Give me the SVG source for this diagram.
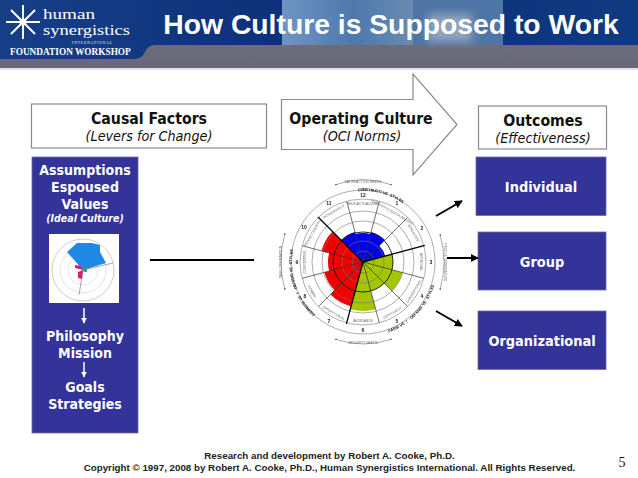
<svg xmlns="http://www.w3.org/2000/svg" width="638" height="478" viewBox="0 0 638 478">
<style>
.t{font-family:"DejaVu Sans Condensed","DejaVu Sans",sans-serif;font-stretch:condensed;text-anchor:middle}
.b{font-weight:bold;font-size:14.4px}
.c{font-size:14px}
.o{font-size:15.7px}
.w{fill:#fff}
.k{fill:#111}
.i{font-style:italic;font-size:14.2px;font-family:"DejaVu Sans Condensed","DejaVu Sans",sans-serif;font-stretch:condensed;text-anchor:middle;fill:#111}
.box{fill:#fff;stroke:#8a8a8a;stroke-width:1.2}
.blue{fill:#333399;stroke:#6f6f9a;stroke-width:.8}
.arr{stroke:#000;stroke-width:2;fill:none}
.warr{stroke:#fff;stroke-width:1.5;fill:none}
.g{fill:none;stroke:#777;stroke-width:.6}
.l{stroke:#333;stroke-width:.7}
.h{stroke:#000;stroke-width:1.3}
.s{font-family:"Liberation Sans",sans-serif;font-size:3.4px;fill:#666;text-anchor:middle}
.m{font-family:"Liberation Sans",sans-serif;font-size:3.9px;font-weight:bold;fill:#111;text-anchor:start}
.n{font-family:"Liberation Sans",sans-serif;font-size:5px;font-weight:bold;fill:#222;text-anchor:middle}
.foot{font-family:"Liberation Sans",sans-serif;font-weight:bold;font-size:9.77px;fill:#222;text-anchor:middle}
.logo{font-family:"Liberation Serif",serif;fill:#fff}
</style>
<defs>
<linearGradient id="gb" x1="0" x2="1" y1="0" y2="0"><stop offset="0" stop-color="#163f88"/><stop offset=".5" stop-color="#0c2f78"/><stop offset="1" stop-color="#0f3a82"/></linearGradient>
<linearGradient id="gg" x1="0" x2="0" y1="0" y2="1"><stop offset="0" stop-color="#72727f"/><stop offset="1" stop-color="#686878"/></linearGradient>
<linearGradient id="gm" x1="0" x2="1" y1="0" y2="0"><stop offset="0" stop-color="#6f94c2"/><stop offset=".55" stop-color="#4e79ad"/><stop offset="1" stop-color="#6a8bb0"/></linearGradient>
<marker id="ah" viewBox="0 0 10 10" refX="9" refY="5" markerWidth="4" markerHeight="4" orient="auto"><path d="M0 0L10 5L0 10z" fill="#000"/></marker>
<marker id="awh" viewBox="0 0 10 10" refX="9" refY="5" markerWidth="4" markerHeight="4" orient="auto"><path d="M0 0L10 5L0 10z" fill="#fff"/></marker>
<marker id="ag" viewBox="0 0 10 10" refX="9" refY="5" markerWidth="4" markerHeight="4" orient="auto-start-reverse"><path d="M0 0L10 5L0 10z" fill="#555"/></marker>
<filter id="soft" x="-5%" y="-5%" width="110%" height="110%"><feGaussianBlur stdDeviation=".3"/></filter>
<filter id="mott" x="-20%" y="-20%" width="140%" height="140%"><feGaussianBlur stdDeviation="4"/></filter>
</defs>
<g id="header">
<rect x="0" y="0" width="638" height="68" fill="url(#gg)"/>
<path d="M0 0H638V45H155Q148 45 145 52Q142 59 134 59H0z" fill="url(#gb)"/>
<rect x="282" y="0" width="131" height="45" fill="url(#gm)"/>
<rect x="413" y="0" width="90" height="45" fill="#4f74a6"/>
<path d="M428 14H472V42H428z" fill="#8ea4bd" filter="url(#mott)"/>
<rect x="0" y="68" width="638" height="2" fill="#dfe2ea"/>
<g stroke="#fff" stroke-width="2" fill="none"><path d="M23 5V39M6 22H40M11 10L35 34M35 10L11 34"/></g>
<circle cx="23" cy="22" r="3.500" fill="#fff"/>
<text class="logo" x="43" y="19" font-size="14" textLength="52" lengthAdjust="spacingAndGlyphs">human</text>
<text class="logo" x="43" y="35" font-size="14" textLength="87" lengthAdjust="spacingAndGlyphs">synergistics</text>
<text class="logo" x="72" y="44" font-size="3.500" letter-spacing="1">INTERNATIONAL</text>
<text class="logo" x="10" y="55" font-size="9.300" font-weight="bold">FOUNDATION WORKSHOP</text>
<text x="391" y="34" font-family="Liberation Sans,sans-serif" font-size="28.300" font-weight="bold" fill="#fff" text-anchor="middle">How Culture is Supposed to Work</text>
</g>
<g id="causal">
<rect class="box" x="31.500" y="104" width="235" height="44"/>
<text class="t b o k" x="149" y="124">Causal Factors</text>
<text class="i" x="149" y="141">(Levers for Change)</text>
</g>
<g id="operating">
<path class="box" d="M281.500 99.500H413V74L457 124.500L413 175V149.500H281.500z"/>
<text class="t b o k" x="361" y="124">Operating Culture</text>
<text class="i" x="362" y="141">(OCI Norms)</text>
</g>
<g id="outcomes">
<rect class="box" x="478.500" y="106" width="128" height="43"/>
<text class="t b o k" x="543" y="126">Outcomes</text>
<text class="i" x="543" y="143">(Effectiveness)</text>
</g>
<g id="left-column">
<rect class="blue" x="32" y="157" width="106" height="276"/>
<text class="t b c w" x="85" y="175">Assumptions</text>
<text class="t b c w" x="85" y="192">Espoused</text>
<text class="t b c w" x="85" y="209">Values</text>
<text class="t w" x="85" y="222" font-size="10.500" font-style="italic" font-weight="bold">(Ideal Culture)</text>
<rect x="49" y="234" width="70" height="69" fill="#fff"/>
<g id="mini-wheel">
<circle cx="83" cy="270" r="31" fill="none" stroke="#999" stroke-width=".5"/>
<circle cx="83" cy="270" r="23" fill="none" stroke="#bbb" stroke-width=".4"/>
<circle cx="83" cy="270" r="15" fill="none" stroke="#bbb" stroke-width=".4"/>
<path d="M83 270L67 252L77 243H92L100 245L100 252L106 263Z" fill="#1e88e5"/>
<path d="M83 270L75 268L75 265L81 266ZM83 270L82 279L78 278L78 272Z" fill="#d0207a"/>
<path d="M83 270L87 268L87 272L84 272Z" fill="#4caf20"/>
<path d="M83 270L79 295M83 270L113 263" stroke="#666" stroke-width=".6"/>
</g>
<text class="t b c w" x="85" y="341">Philosophy</text>
<text class="t b c w" x="85" y="358">Mission</text>
<text class="t b c w" x="85" y="392">Goals</text>
<text class="t b c w" x="85" y="409">Strategies</text>
</g>
<g id="individual"><rect class="blue" x="476" y="157" width="130" height="58.500"/><text class="t b w" x="541" y="192">Individual</text></g>
<g id="group"><rect class="blue" x="478" y="232" width="128" height="58"/><text class="t b w" x="542" y="267">Group</text></g>
<g id="organizational"><rect class="blue" x="478" y="311" width="128" height="58.500"/><text class="t b w" x="542" y="346">Organizational</text></g>
<g id="wheel" filter="url(#soft)">
<circle cx="363" cy="262" r="72" fill="#fff" stroke="#777" stroke-width=".6"/>
<path fill="#0000ee" d="M363 262L341.100 240.100A31 31 0 0 1 355 232.100L355.500 234A29 29 0 0 1 370.500 234L371 232.100A31 31 0 0 1 384.900 240.100L379.300 245.700A23 23 0 0 1 385.200 256Z"/>
<path fill="#a3c600" d="M363 262L392 254.200A30 30 0 0 1 392 269.800L402.600 272.600A41 41 0 0 1 392 291L384.200 283.200A30 30 0 0 1 370.800 291L375.700 309.300A49 49 0 0 1 350.300 309.300Z"/>
<path fill="#f00000" d="M363 262L351.100 306.400A46 46 0 0 1 330.500 294.500L334.700 290.300A40 40 0 0 1 324.400 272.400L329.200 271.100A35 35 0 0 1 329.200 252.900L321.500 250.900A43 43 0 0 1 332.600 231.600Z"/>
<g class="g">
<circle cx="363" cy="262" r="11"/><circle cx="363" cy="262" r="21"/><circle cx="363" cy="262" r="41"/><circle cx="363" cy="262" r="51"/><circle cx="363" cy="262" r="63"/>
</g>
<circle cx="363" cy="262" r="30" fill="none" stroke="#222" stroke-width="1"/>
<g class="l">
<line x1="363" y1="262" x2="346.700" y2="201.200"/><line x1="363" y1="262" x2="379.300" y2="201.200"/><line x1="363" y1="262" x2="407.500" y2="217.500"/><line x1="363" y1="262" x2="423.800" y2="278.300"/><line x1="363" y1="262" x2="407.500" y2="306.500"/><line x1="363" y1="262" x2="379.300" y2="322.800"/><line x1="363" y1="262" x2="318.500" y2="306.500"/><line x1="363" y1="262" x2="302.200" y2="278.300"/><line x1="363" y1="262" x2="302.200" y2="245.700"/>
</g>
<g class="h"><line x1="363" y1="262" x2="318" y2="217"/><line x1="363" y1="262" x2="424.800" y2="245.400"/><line x1="363" y1="262" x2="346.400" y2="323.800"/></g>
<text class="s" transform="translate(363 205)">SELF-ACTUALIZING</text>
<text class="s" transform="translate(391.500 212.600) rotate(30)">HUMANISTIC-ENCOURAGING</text>
<text class="s" transform="translate(412.400 233.500) rotate(60)">AFFILIATIVE</text>
<text class="s" transform="translate(420 262) rotate(90)">APPROVAL</text>
<text class="s" transform="translate(415 292) rotate(-60)">CONVENTIONAL</text>
<text class="s" transform="translate(393 314) rotate(-30)">DEPENDENT</text>
<text class="s" transform="translate(363 322)">AVOIDANCE</text>
<text class="s" transform="translate(333 314) rotate(30)">OPPOSITIONAL</text>
<text class="s" transform="translate(311 292) rotate(60)">POWER</text>
<text class="s" transform="translate(306 262) rotate(-90)">COMPETITIVE</text>
<text class="s" transform="translate(313.600 233.500) rotate(-60)">PERFECTIONISTIC</text>
<text class="s" transform="translate(334.500 212.600) rotate(-30)">ACHIEVEMENT</text>
<text class="n" x="363" y="197">12</text><text class="n" x="397" y="205">1</text><text class="n" x="422" y="230">2</text><text class="n" x="431" y="264">3</text><text class="n" x="422" y="298">4</text><text class="n" x="397" y="323">5</text><text class="n" x="363" y="332">6</text><text class="n" x="329" y="323">7</text><text class="n" x="305" y="298">8</text><text class="n" x="297" y="264">9</text><text class="n" x="304" y="229">10</text><text class="n" x="329" y="205">11</text>
<text class="m" x="358 360.500 363 365.500 368 370.400 372.900 375.300 377.800 380.200 382.600 384.900 387.300 389.600 391.900 394.100 396.300 398.500 400.600" y="191.200 191 191 191 191.200 191.400 191.700 192.100 192.600 193.100 193.700 194.500 195.300 196.200 197.100 198.200 199.300 200.500 201.800" rotate="-4 -2 0 2 4 6 8 10 12 14 16 18 20 22 24 26 28 30 32">CONSTRUCTIVE STYLES</text>
<text class="m" x="388.700 391.100 393.500 395.900 398.200 400.500 402.700 404.900 407.100 409.200 411.200 413.200 415.100 416.900 418.700 420.500 422.100 423.700 425.200 426.600 428 429.200 430.400 431.500 432.500 433.500" y="332.500 331.500 330.500 329.400 328.200 327 325.600 324.200 322.700 321.100 319.500 317.700 316 314.100 312.200 310.200 308.200 306.100 303.900 301.700 299.500 297.200 294.900 292.500 290.100 287.700" rotate="-20 -22 -24 -26 -28 -30 -32 -34 -36 -38 -40 -42 -44 -46 -48 -50 -52 -54 -56 -58 -60 -62 -64 -66 -68 -70">PASSIVE / DEFENSIVE STYLES</text>
<text class="m" x="315.500 313.700 311.900 310.200 308.600 307.100 305.600 304.100 302.800 301.500 300.300 299.200 298.100 297.200 296.300 295.500 294.700 294.100 293.600 293.100 292.700 292.400 292.200 292 292 292 292.200 292.400 292.700" y="314.800 313.100 311.300 309.500 307.600 305.700 303.700 301.700 299.600 297.500 295.300 293.100 290.900 288.600 286.300 283.900 281.600 279.200 276.800 274.300 271.900 269.400 267 264.500 262 259.500 257 254.600 252.100" rotate="-138 -136 -134 -132 -130 -128 -126 -124 -122 -120 -118 -116 -114 -112 -110 -108 -106 -104 -102 -100 -98 -96 -94 -92 -90 -88 -86 -84 -82">AGGRESSIVE / DEFENSIVE STYLES</text>
<text class="s" x="363" y="183">SATISFACTION NEEDS</text>
<text class="s" x="363" y="344">SECURITY NEEDS</text>
<text class="s" transform="translate(443.500 262) rotate(90)">PEOPLE ORIENTATION</text>
<text class="s" transform="translate(282 262) rotate(-90)">TASK ORIENTATION</text>
<g fill="none" stroke="#555" stroke-width=".5" marker-start="url(#ag)" marker-end="url(#ag)">
<path d="M335 185Q363 174 392 185"/><path d="M335 339Q363 349 392 339"/><path d="M285 233Q277 262 285 290"/><path d="M440 234Q448 262 440 290"/>
</g>
</g>
<g id="connectors">
<line class="warr" x1="84" y1="308" x2="84" y2="323" marker-end="url(#awh)"/>
<line class="warr" x1="84" y1="362" x2="84" y2="377" marker-end="url(#awh)"/>
<line class="arr" x1="150" y1="260" x2="254" y2="260"/>
<line class="arr" x1="436" y1="216" x2="462" y2="201" marker-end="url(#ah)"/>
<line class="arr" x1="447" y1="258" x2="478" y2="258" marker-end="url(#ah)"/>
<line class="arr" x1="436" y1="311" x2="462" y2="326" marker-end="url(#ah)"/>
</g>
<g id="footer">
<text class="foot" x="329.500" y="459">Research and development by Robert A. Cooke, Ph.D.</text>
<text class="foot" x="329.500" y="471">Copyright © 1997, 2008 by Robert A. Cooke, Ph.D., Human Synergistics International. All Rights Reserved.</text>
<text x="622" y="467" font-family="Liberation Serif,serif" font-size="14" fill="#111" text-anchor="middle">5</text>
</g>
</svg>
